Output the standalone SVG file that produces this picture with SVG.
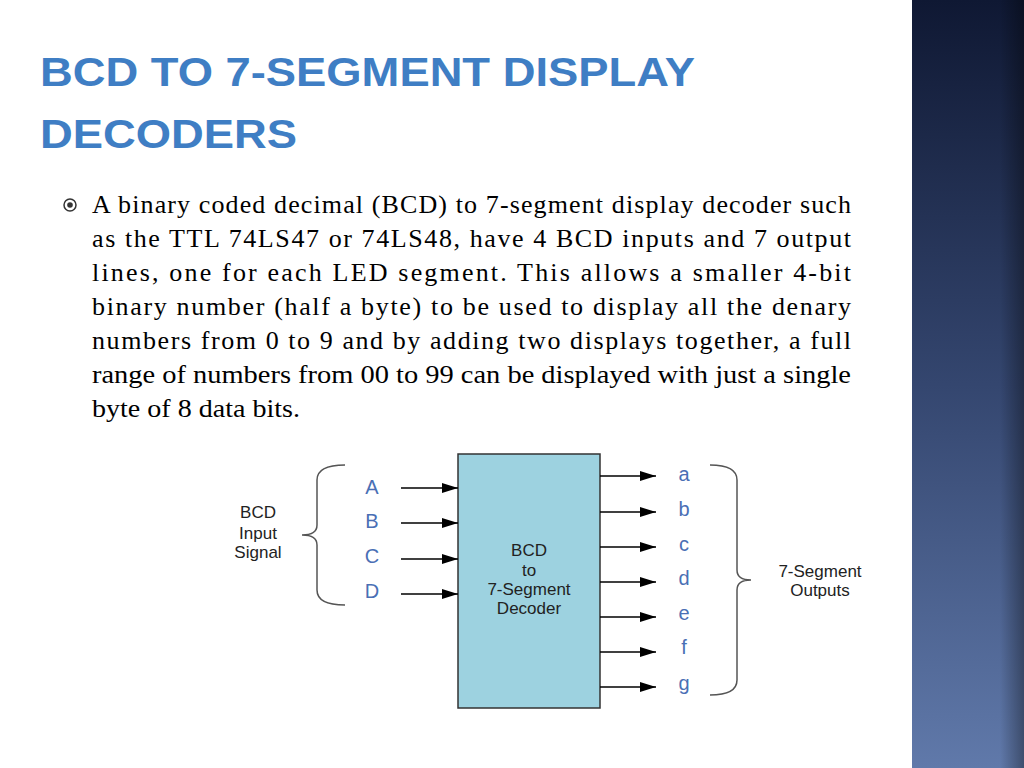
<svg xmlns="http://www.w3.org/2000/svg" width="1024" height="768" viewBox="0 0 1024 768">
<defs>
<linearGradient id="pg" x1="0" y1="0" x2="0" y2="1"><stop offset="0" stop-color="#0f1833"/><stop offset="0.5" stop-color="#34466f"/><stop offset="1" stop-color="#6079aa"/></linearGradient>
<linearGradient id="edge" x1="0" y1="0" x2="1" y2="0"><stop offset="0" stop-color="#000" stop-opacity="0"/><stop offset="1" stop-color="#000" stop-opacity="0.35"/></linearGradient>
<marker id="ar" markerWidth="16" markerHeight="10" refX="16" refY="5" orient="auto" markerUnits="userSpaceOnUse"><path d="M0,0 L16,5 L0,10 Z" fill="#000"/></marker>
<style>
.t{font-family:"Liberation Sans",Arial,sans-serif;font-weight:bold;font-size:40px;fill:#3f7ec4}
.b{font-family:"Liberation Serif","Times New Roman",serif;font-size:26px;fill:#000}
.d{font-family:"Liberation Sans",Arial,sans-serif;font-size:17px;fill:#222;text-anchor:middle}
.l{font-family:"Liberation Sans",Arial,sans-serif;font-size:20px;fill:#4a6fb5;text-anchor:middle}
.w{stroke:#000;stroke-width:1.3;fill:none}
.br{stroke:#555;stroke-width:1.5;fill:none}
</style>
</defs>
<rect width="1024" height="768" fill="#fff"/>
<rect x="912" y="0" width="112" height="768" fill="url(#pg)"/>
<rect x="1000" y="0" width="24" height="768" fill="url(#edge)"/>
<text class="t" x="40" y="86" textLength="655" lengthAdjust="spacingAndGlyphs">BCD TO 7-SEGMENT DISPLAY</text>
<text class="t" x="40" y="148" textLength="257" lengthAdjust="spacingAndGlyphs">DECODERS</text>
<circle cx="70" cy="205" r="6" fill="none" stroke="#333" stroke-width="1.5"/><circle cx="70" cy="205" r="2.8" fill="#333"/>
<text class="b" x="92" y="213" textLength="759">A binary coded decimal (BCD) to 7-segment display decoder such</text>
<text class="b" x="92" y="247" textLength="759">as the TTL 74LS47 or 74LS48, have 4 BCD inputs and 7 output</text>
<text class="b" x="92" y="281" textLength="759">lines, one for each LED segment. This allows a smaller 4-bit</text>
<text class="b" x="92" y="315" textLength="759">binary number (half a byte) to be used to display all the denary</text>
<text class="b" x="92" y="349" textLength="759">numbers from 0 to 9 and by adding two displays together, a full</text>
<text class="b" x="92" y="383" textLength="759" lengthAdjust="spacingAndGlyphs">range of numbers from 00 to 99 can be displayed with just a single</text>
<text class="b" x="92" y="417" textLength="208" lengthAdjust="spacingAndGlyphs">byte of 8 data bits.</text>
<g id="decoder"><rect x="458" y="454" width="142" height="254" fill="#9dd2e0" stroke="#333" stroke-width="1.5"/>
<text class="d" x="529" y="556">BCD</text><text class="d" x="529" y="576">to</text><text class="d" x="529" y="595">7-Segment</text><text class="d" x="529" y="614">Decoder</text></g>
<g id="inputs"><path class="br" d="M345,465 Q317,465 317,480 L317,525 Q317,535 302,535 Q317,535 317,545 L317,590 Q317,605 345,605"/>
<text class="d" x="258" y="518">BCD</text><text class="d" x="258" y="539">Input</text><text class="d" x="258" y="558">Signal</text>
<text class="l" x="372" y="494">A</text><text class="l" x="372" y="528">B</text><text class="l" x="372" y="563">C</text><text class="l" x="372" y="598">D</text></g>
<g id="outputs"><path class="br" d="M710,465 Q737,465 737,480 L737,570 Q737,580 751,580 Q737,580 737,590 L737,680 Q737,695 710,695"/>
<text class="d" x="820" y="577">7-Segment</text><text class="d" x="820" y="596">Outputs</text>
<text class="l" x="684" y="481">a</text><text class="l" x="684" y="516">b</text><text class="l" x="684" y="551">c</text><text class="l" x="684" y="585">d</text><text class="l" x="684" y="620">e</text><text class="l" x="684" y="654">f</text><text class="l" x="684" y="690">g</text></g>
<g id="connectors">
<line class="w" x1="401" y1="488" x2="458" y2="488" marker-end="url(#ar)"/>
<line class="w" x1="401" y1="523" x2="458" y2="523" marker-end="url(#ar)"/>
<line class="w" x1="401" y1="559" x2="458" y2="559" marker-end="url(#ar)"/>
<line class="w" x1="401" y1="594" x2="458" y2="594" marker-end="url(#ar)"/>
<line class="w" x1="600" y1="476" x2="656" y2="476" marker-end="url(#ar)"/>
<line class="w" x1="600" y1="512" x2="656" y2="512" marker-end="url(#ar)"/>
<line class="w" x1="600" y1="547" x2="656" y2="547" marker-end="url(#ar)"/>
<line class="w" x1="600" y1="582" x2="656" y2="582" marker-end="url(#ar)"/>
<line class="w" x1="600" y1="617" x2="656" y2="617" marker-end="url(#ar)"/>
<line class="w" x1="600" y1="652" x2="656" y2="652" marker-end="url(#ar)"/>
<line class="w" x1="600" y1="687" x2="656" y2="687" marker-end="url(#ar)"/>
</g>
</svg>
